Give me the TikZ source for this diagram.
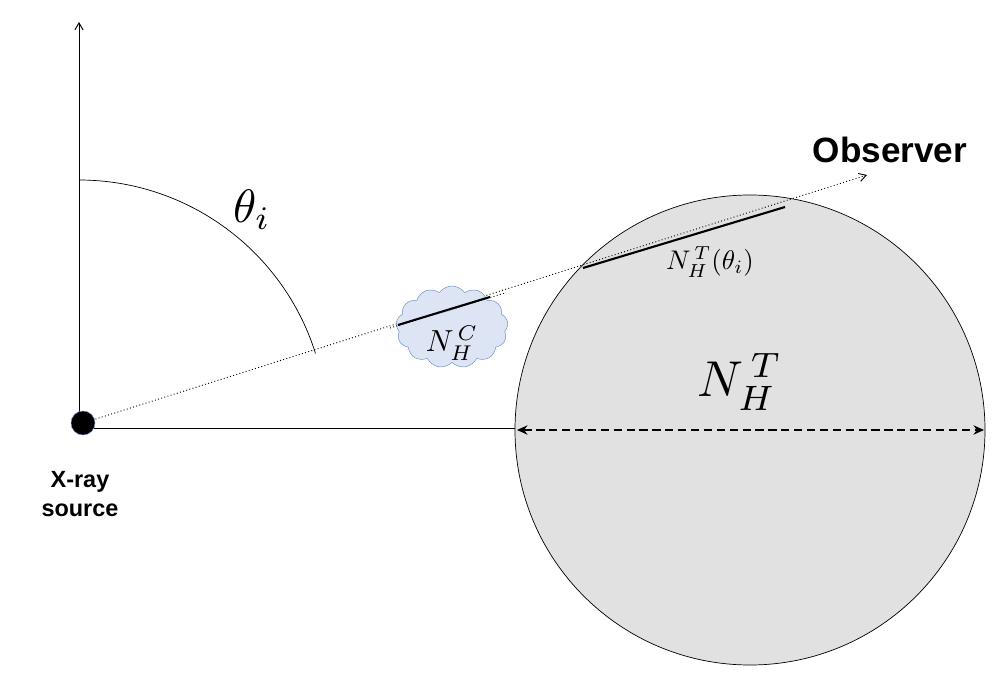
\documentclass[tikz,border=0pt]{standalone}
\usepackage{fontspec}
\setmainfont{Liberation Serif}
\newfontfamily\sansb{Liberation Sans}
\usetikzlibrary{shapes.symbols,arrows.meta}
\definecolor{cloudf}{RGB}{221,229,245}
\definecolor{cloudd}{RGB}{110,140,200}
\definecolor{disk}{RGB}{225,225,225}
\begin{document}
\begin{tikzpicture}[x=0.03cm,y=-0.03cm,
  thick seg/.style={line width=1.8pt},
  barb/.style={-{Straight Barb[length=6pt,width=7pt]}},
  mlab/.style={transform shape,scale=#1}]
\useasboundingbox (0,0) rectangle (1000,676);
\node[circle,draw=black,fill=disk,line width=0.6pt,minimum size=470*0.03cm,inner sep=0] (disk) at (750,430) {};
\coordinate (src) at (83,423);
\coordinate (top) at (79,22);
\coordinate (hend) at (515,428);
\coordinate (obs) at (867,175);
\draw[line width=0.8pt,barb] (79,428) -- (top);
\draw[line width=0.6pt] (79,428) -- (hend);
\draw[dotted,line width=0.8pt,barb] (src) -- (obs);
\draw[line width=0.6pt] (79,180) arc[start angle=-90,end angle=-17.5,radius=248];
\node[mlab=4] at (252,210) {$\theta_i$};
\node[cloud,cloud puffs=13,cloud puff arc=110,aspect=1.5,draw=cloudd,fill=cloudf,minimum width=112*0.03cm,minimum height=82*0.03cm] (cl) at (452,327) {};
\draw[dotted,line width=0.8pt] (390,328) -- (505,293);
\coordinate (c1) at (398,325); \coordinate (c2) at (490,297);
\draw[thick seg] (c1) -- (c2);
\node[mlab=2.6] at (452,343) {$N^{\,C}_{H}$};
\coordinate (t1) at (583,268); \coordinate (t2) at (785,207);
\draw[thick seg] (t1) -- (t2);
\node[mlab=2.3] at (710,262) {$N^{\,T}_{H}(\theta_i)$};
\node[mlab=4.3] at (740,382) {$N^{\,T}_{H}$};
\coordinate (dl) at (517,430); \coordinate (dr) at (984,430);
\draw[line width=1.8pt,dash pattern=on 7pt off 4pt,{Stealth[length=9pt,width=8pt]}-{Stealth[length=9pt,width=8pt]}] (dl) -- (dr);
\node[circle,fill=black,draw=cloudd,line width=0.4pt,minimum size=24*0.03cm,inner sep=0] (s) at (src) {};
\node[align=center,font=\sansb\bfseries\fontsize{20}{25}\selectfont] at (80,494) {X-ray\\source};
\node[font=\sansb\bfseries\fontsize{30}{30}\selectfont] at (890,150) {Observer};
\end{tikzpicture}
\end{document}
